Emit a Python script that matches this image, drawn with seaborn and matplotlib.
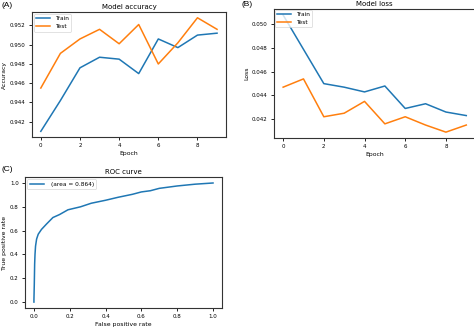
import matplotlib
matplotlib.use("Agg")
import matplotlib.pyplot as plt
import numpy as np
import pandas as pd
import seaborn as sns

# Training history per epoch
epochs = list(range(10))
acc_train = [0.9410, 0.9442, 0.9476, 0.9487, 0.9485, 0.9470, 0.9506, 0.9497, 0.9510, 0.9512]
acc_test = [0.9455, 0.9491, 0.9506, 0.9516, 0.9501, 0.9521, 0.9480, 0.9502, 0.9528, 0.9516]
loss_train = [0.0508, 0.0479, 0.0450, 0.0447, 0.0443, 0.0448, 0.0429, 0.0433, 0.0426, 0.0423]
loss_test = [0.0447, 0.0454, 0.0422, 0.0425, 0.0435, 0.0416, 0.0422, 0.0415, 0.0409, 0.0415]
series_names = ["Train", "Test"]

# ROC curve points
fpr = [0.0, 0.0, 0.002, 0.004, 0.006, 0.009, 0.015, 0.024, 0.042, 0.07, 0.106, 0.143,
       0.19, 0.26, 0.32, 0.40, 0.47, 0.55, 0.60, 0.65, 0.70, 0.80, 0.90, 1.0]
tpr = [0.0, 0.02, 0.15, 0.32, 0.40, 0.47, 0.53, 0.57, 0.61, 0.655, 0.71, 0.735,
       0.775, 0.80, 0.83, 0.855, 0.88, 0.905, 0.925, 0.935, 0.955, 0.975, 0.99, 1.0]
roc_auc = 0.864

plt.rcParams.update({
    "font.family": "DejaVu Sans",
    "axes.linewidth": 0.8,
    "axes.edgecolor": "#333333",
    "xtick.major.size": 2.5,
    "ytick.major.size": 2.5,
    "xtick.major.width": 0.6,
    "ytick.major.width": 0.6,
    "xtick.major.pad": 2,
    "ytick.major.pad": 2,
    "xtick.labelsize": 4.0,
    "ytick.labelsize": 4.0,
    "axes.labelsize": 4.4,
    "axes.labelpad": 2,
    "axes.titlesize": 5.0,
    "axes.titlepad": 2,
    "legend.fontsize": 4.2,
})

palette = {"Train": "#1f77b4", "Test": "#ff7f0e"}

fig = plt.figure(figsize=(4.74, 3.27), dpi=100)
ax_a = fig.add_axes([0.0675, 0.581, 0.409, 0.382])
ax_b = fig.add_axes([0.578, 0.578, 0.425, 0.394])
ax_c = fig.add_axes([0.0527, 0.058, 0.4156, 0.4006])


def history_frame(train, test):
    return pd.DataFrame({
        "Epoch": epochs * 2,
        "value": train + test,
        "series": [series_names[0]] * len(train) + [series_names[1]] * len(test),
    })


def history_panel(ax, train, test, title, ylabel, fmt, pad):
    df = history_frame(train, test)
    sns.lineplot(data=df, x="Epoch", y="value", hue="series", palette=palette,
                 linewidth=1.1, ax=ax)
    ax.set_title(title)
    ax.set_xlabel("Epoch")
    ax.set_ylabel(ylabel)
    ax.set_xticks([0, 2, 4, 6, 8])
    ax.yaxis.set_major_formatter(matplotlib.ticker.FormatStrFormatter(fmt))
    ax.margins(x=0.05, y=0.05)
    leg = ax.legend(loc="upper left", borderaxespad=pad, handlelength=2.4,
                    frameon=True, fancybox=True)
    leg.get_frame().set_linewidth(0.5)
    return ax


history_panel(ax_a, acc_train, acc_test, "Model accuracy", "Accuracy", "%.3f", 0.3)
ax_a.set_yticks([0.942, 0.944, 0.946, 0.948, 0.950, 0.952])
history_panel(ax_b, loss_train, loss_test, "Model loss", "Loss", "%.3f", 0.1)
ax_b.set_yticks([0.042, 0.044, 0.046, 0.048, 0.050])

# ROC panel
roc_df = pd.DataFrame({"False positive rate": fpr, "True positive rate": tpr})
sns.lineplot(data=roc_df, x="False positive rate", y="True positive rate",
             sort=False, estimator=None, color="#1f77b4", linewidth=1.1,
             label=f"(area = {roc_auc:.3f})", ax=ax_c)
ax_c.set_title("ROC curve")
ax_c.set_xticks([0.0, 0.2, 0.4, 0.6, 0.8, 1.0])
ax_c.set_yticks([0.0, 0.2, 0.4, 0.6, 0.8, 1.0])
ax_c.margins(x=0.05, y=0.05)
leg_c = ax_c.legend(loc="upper left", borderaxespad=0.4, handlelength=2.4,
                    handletextpad=1.2)
leg_c.get_frame().set_linewidth(0.5)

for ax in (ax_a, ax_b, ax_c):
    for s in ax.spines.values():
        s.set_visible(True)

# Panel letters
fig.text(0.004, 0.993, "(A)", fontsize=6, family="Liberation Sans", va="top", ha="left")
fig.text(0.510, 0.996, "(B)", fontsize=6, family="Liberation Sans", va="top", ha="left")
fig.text(0.004, 0.492, "(C)", fontsize=6, family="Liberation Sans", va="top", ha="left")

fig.savefig("out.png", dpi=100, facecolor="white")
